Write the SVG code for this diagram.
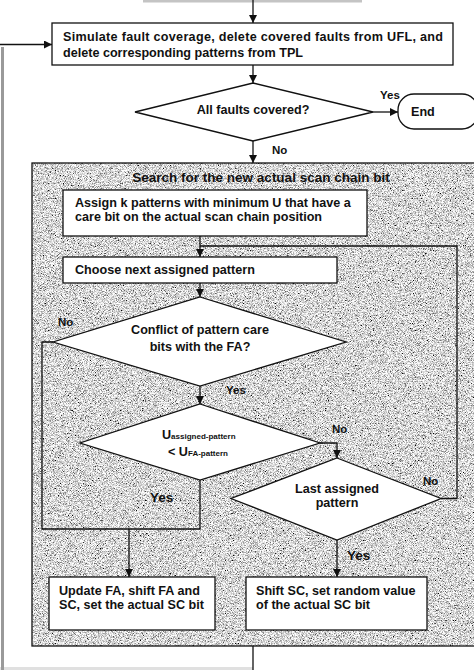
<svg xmlns="http://www.w3.org/2000/svg" width="474" height="670" viewBox="0 0 474 670">
<style>
text{font-family:"Liberation Sans",Arial,sans-serif;font-weight:bold;font-size:12.6px;fill:#111}
.box{fill:#fff;stroke:#111;stroke-width:1.3}
.ln{fill:none;stroke:#111;stroke-width:1.3}
.lbl{font-size:11.5px}
.big{font-size:13.5px}
.sub{font-size:8px}
</style>
<defs>
<marker id="ah" markerUnits="userSpaceOnUse" markerWidth="9" markerHeight="8" refX="8" refY="4" orient="auto">
<path d="M0,0 L8,4 L0,8 z" fill="#111"/>
</marker>
<filter id="noise" x="0" y="0" width="100%" height="100%" filterUnits="objectBoundingBox">
<feTurbulence type="fractalNoise" baseFrequency="1.4" numOctaves="1" seed="7" result="n"/>
<feColorMatrix in="n" type="matrix" values="2.6 0 0 0 -0.62  2.6 0 0 0 -0.62  2.6 0 0 0 -0.62  0 0 0 0 1"/>
</filter>
</defs>

<!-- cropped fragments at edges -->
<rect x="143" y="0" width="219" height="2.5" fill="#c4c4c4"/>
<rect x="0" y="667" width="253" height="3" fill="#e0e0e0"/>
<rect x="1" y="47" width="3" height="623" fill="#9a9a9a"/>

<!-- search region -->
<g id="search-region">
<rect x="32" y="163" width="446" height="483" fill="#a8a8a8" filter="url(#noise)"/>
<rect x="32" y="163" width="446" height="483" fill="none" stroke="#111" stroke-width="1.3"/>
<text class="big" x="261" y="182" text-anchor="middle">Search for the new actual scan chain bit</text>
</g>

<g id="connectors">
<line class="ln" x1="253" y1="0" x2="253" y2="23" marker-end="url(#ah)"/>
<line class="ln" x1="0" y1="44.5" x2="52" y2="44.5" marker-end="url(#ah)"/>
<line class="ln" x1="253" y1="65" x2="253" y2="83" marker-end="url(#ah)"/>
<line class="ln" x1="373" y1="112" x2="398" y2="112" marker-end="url(#ah)"/>
<line class="ln" x1="253" y1="141" x2="253" y2="163" marker-end="url(#ah)"/>
<line class="ln" x1="200" y1="236" x2="200" y2="257" marker-end="url(#ah)"/>
<polyline class="ln" points="441,498.5 457,498.5 457,246 200,246"/>
<line class="ln" x1="200" y1="283" x2="200" y2="297" marker-end="url(#ah)"/>
<polyline class="ln" points="53,342 42,342 42,529 200,529 200,480"/>
<line class="ln" x1="200" y1="386" x2="200" y2="404" marker-end="url(#ah)"/>
<line class="ln" x1="129" y1="529" x2="129" y2="577" marker-end="url(#ah)"/>
<polyline class="ln" points="320,443 337,443 337,458" marker-end="url(#ah)"/>
<line class="ln" x1="337" y1="540" x2="337" y2="577" marker-end="url(#ah)"/>
<line class="ln" x1="253" y1="646" x2="253" y2="670"/>
<text class="lbl" x="380" y="99">Yes</text>
<text class="lbl" x="272" y="154">No</text>
<text class="lbl" x="58" y="326">No</text>
<text class="lbl" x="226" y="394">Yes</text>
<text class="lbl" x="332" y="433">No</text>
<text class="lbl" x="423" y="485">No</text>
<text class="big" x="150" y="501.5">Yes</text>
<text class="big" x="347" y="560">Yes</text>
</g>

<g id="simulate">
<rect class="box" x="52" y="23" width="401" height="42"/>
<text x="63" y="40.5" textLength="380" lengthAdjust="spacing">Simulate fault coverage, delete covered faults from UFL, and</text>
<text x="63" y="56.5">delete corresponding patterns from TPL</text>
</g>

<g id="all-covered">
<polygon class="box" points="253,83 373,112 253,141 135,112"/>
<text x="253" y="114" text-anchor="middle">All faults covered?</text>
</g>

<g id="end">
<rect class="box" x="398" y="94" width="80" height="35" rx="16" ry="16"/>
<text x="411" y="116">End</text>
</g>

<g id="assign">
<rect class="box" x="63" y="190" width="304" height="46"/>
<text x="75" y="207">Assign k patterns with minimum U that have a</text>
<text x="75" y="221">care bit on the actual scan chain position</text>
</g>

<g id="choose">
<rect class="box" x="63" y="257" width="274" height="26"/>
<text x="75" y="274.3">Choose next assigned pattern</text>
</g>

<g id="conflict">
<polygon class="box" points="200,297 346,342 200,386 53,342"/>
<text x="200" y="334.3" text-anchor="middle">Conflict of pattern care</text>
<text x="200" y="350.7" text-anchor="middle">bits with the FA?</text>
</g>

<g id="compare-u">
<polygon class="box" points="200,404 320,443 200,480 80,443"/>
<text x="162" y="439">U<tspan class="sub">assigned-pattern</tspan></text>
<text x="168" y="456">&lt;  U<tspan class="sub">FA-pattern</tspan></text>
</g>

<g id="last-assigned">
<polygon class="box" points="337,458 441,498.5 337,540 231,498.5"/>
<text x="337" y="493.3" text-anchor="middle">Last assigned</text>
<text x="337" y="506.5" text-anchor="middle">pattern</text>
</g>

<g id="update">
<rect class="box" x="49" y="577" width="166" height="53"/>
<text x="59" y="595">Update FA, shift FA and</text>
<text x="59" y="609">SC, set the actual SC bit</text>
</g>

<g id="shift">
<rect class="box" x="246" y="577" width="181" height="53"/>
<text x="256" y="595">Shift SC, set random value</text>
<text x="256" y="609">of the actual SC bit</text>
</g>
</svg>
